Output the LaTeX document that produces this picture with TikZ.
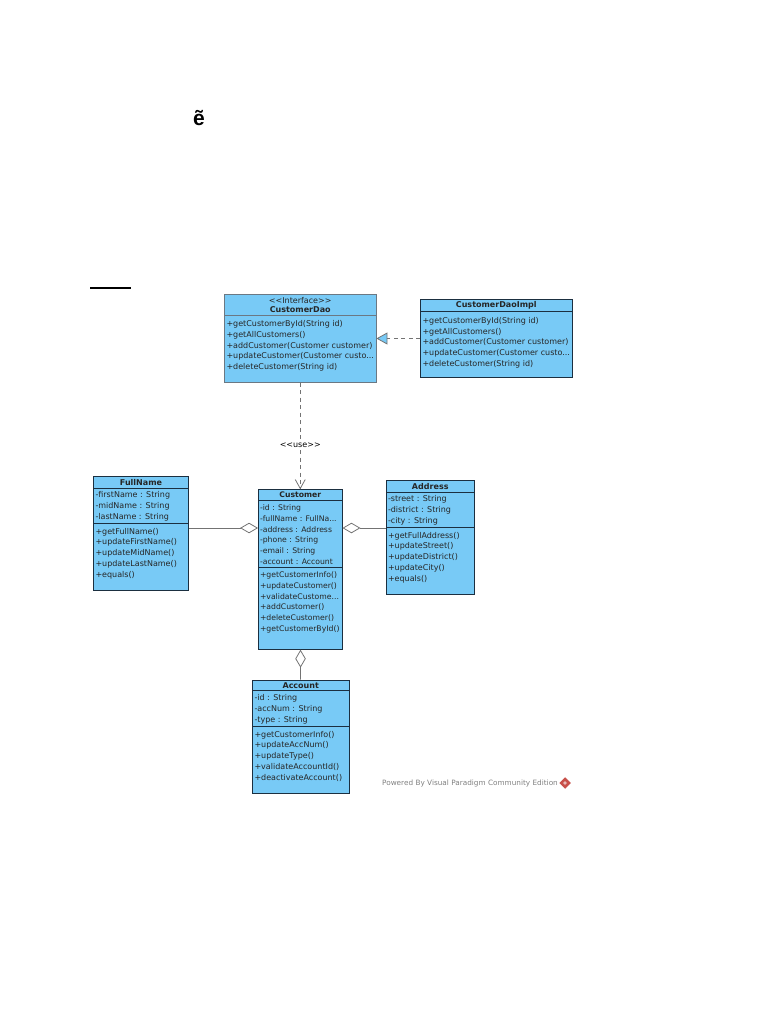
\documentclass[tikz,border=0pt]{standalone}
\usepackage{fontspec}
\setmainfont{DejaVu Sans}
\newfontfamily\headfont{Liberation Sans}
\usetikzlibrary{shapes.geometric, shapes.multipart, arrows.meta}
\definecolor{classblue}{HTML}{78CAF6}
\definecolor{classline}{HTML}{1B2F40}
\definecolor{logored}{HTML}{C8504A}
\newcommand{\attrgap}{\rule{0pt}{7.5pt}}
\newcommand{\opgap}{\rule{0pt}{8pt}}

\begin{document}
\begin{tikzpicture}[x=1pt, y=-1pt, node distance=0pt]
    \tikzstyle{umlclass} = [rectangle split, rectangle split parts=3, rectangle split part align={center,left,left}, align=left, inner xsep=2pt, inner ysep=2pt, fill=classblue, draw=classline, line width=0.9pt, text=black!85, font=\fontsize{8}{10.8}\selectfont]
    \tikzstyle{aggregation} = [draw=black!55, line width=0.8pt, -{Diamond[open,length=18pt,width=10.5pt]}]
    \tikzstyle{realization} = [draw=black!55, line width=0.8pt, dash pattern=on 4pt off 3.5pt, -{Triangle[open,fill=classblue,length=11pt,width=12pt]}]
    \tikzstyle{dependency} = [draw=black!55, line width=0.8pt, dash pattern=on 4pt off 3.5pt, -{Straight Barb[length=9pt,width=10pt]}]

    \useasboundingbox (0,0) rectangle (768,1024);

    \node (customer) [umlclass, minimum width=83.5pt, inner xsep=1.5pt, font=\fontsize{7.7}{10.8}\selectfont] at (300.25,569.5) {\textbf{Customer}
        \nodepart{two}\attrgap-id : String\\-fullName : FullNa...\\-address : Address\\-phone : String\\-email : String\\-account : Account
        \nodepart{three}\opgap+getCustomerInfo()\\+updateCustomer()\\+validateCustome...\\+addCustomer()\\+deleteCustomer()\\+getCustomerById()\\[4.5pt]~};
    \node (fullname) [umlclass, minimum width=95pt, left of=customer, xshift=-159.25pt, yshift=36pt] {\textbf{FullName}
        \nodepart{two}\attrgap-firstName : String\\-midName : String\\-lastName : String
        \nodepart{three}\opgap+getFullName()\\+updateFirstName()\\+updateMidName()\\+updateLastName()\\+equals()\\[-0.5pt]~};
    \node (address) [umlclass, minimum width=88.5pt, right of=customer, xshift=130pt, yshift=32pt] {\textbf{Address}
        \nodepart{two}\attrgap-street : String\\-district : String\\-city : String
        \nodepart{three}\opgap+getFullAddress()\\+updateStreet()\\+updateDistrict()\\+updateCity()\\+equals()\\[-0.5pt]~};
    \node (account) [umlclass, minimum width=96.5pt, below of=customer, xshift=0.5pt, yshift=-167pt] {\textbf{Account}
        \nodepart{two}\attrgap-id : String\\-accNum : String\\-type : String
        \nodepart{three}\opgap+getCustomerInfo()\\+updateAccNum()\\+updateType()\\+validateAccountId()\\+deactivateAccount()\\[-0.5pt]~};
    \node (dao) [umlclass, rectangle split parts=2, draw=classline!65, minimum width=151pt, above of=customer, yshift=231pt] {\shortstack{<{}<Interface>{}>\\\textbf{CustomerDao}}
        \nodepart{two}\rule{0pt}{9pt}+getCustomerById(String id)\\+getAllCustomers()\\+addCustomer(Customer customer)\\+updateCustomer(Customer custo...\\+deleteCustomer(String id)\\[-0.9pt]~};
    \node (daoimpl) [umlclass, rectangle split parts=2, minimum width=151pt, right of=dao, xshift=196pt] {\textbf{CustomerDaoImpl}
        \nodepart{two}\rule{0pt}{9pt}+getCustomerById(String id)\\+getAllCustomers()\\+addCustomer(Customer customer)\\+updateCustomer(Customer custo...\\+deleteCustomer(String id)\\[-1.9pt]~};

    \draw [realization] (daoimpl) -- (dao);
    \draw [dependency] (dao) -- node [pos=0.59, fill=white, inner sep=2pt, font=\fontsize{8}{10}\selectfont] (uselabel) {<{}<use>{}>} (customer);
    \draw [aggregation] ([yshift=5.5pt]fullname.east) -- ([yshift=41.5pt]customer.west);
    \draw [aggregation] ([yshift=9.5pt]address.west) -- ([yshift=41.5pt]customer.east);
    \draw [aggregation] (account) -- (customer);

    % page leftovers
    \node (accent) [font=\headfont\bfseries\fontsize{21}{21}\selectfont] at (199,118) {ẽ};
    \coordinate (rulestart) at (90,288);
    \coordinate (ruleend) at (131,288);
    \draw [line width=1.6pt] (rulestart) -- (ruleend);
    \node (powered) [text=black!50, font=\fontsize{7.3}{9}\selectfont] at (470,783) {Powered By Visual Paradigm Community Edition};
    \node (logo) [diamond, draw=logored, line width=2.5pt, fill=logored!40, minimum size=9pt, inner sep=0pt, right of=powered, xshift=95pt] {};
\end{tikzpicture}
\end{document}
